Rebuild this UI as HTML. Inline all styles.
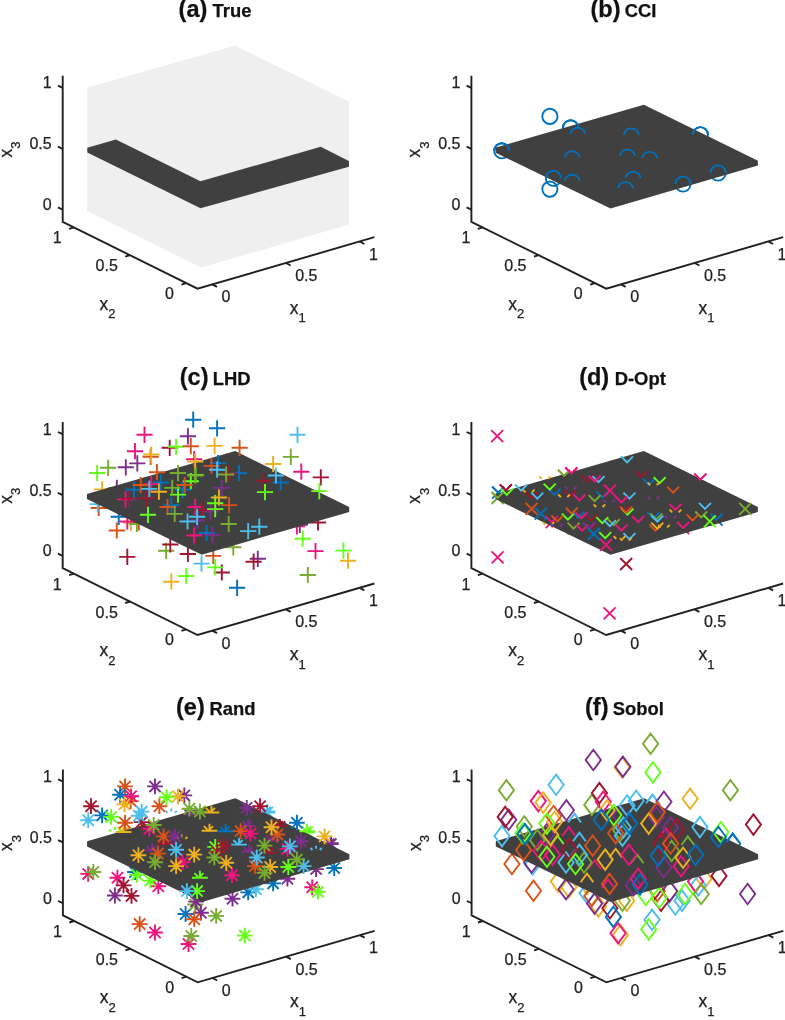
<!DOCTYPE html>
<html lang="en"><head><meta charset="utf-8"><title>Sampling designs</title>
<style>
html,body{margin:0;padding:0;background:#fff}
svg{display:block}
text{font-family:"Liberation Sans",sans-serif;fill:#222;stroke:#222;stroke-width:.25px}
.t1{font-size:23.5px;font-weight:bold;fill:#111;stroke:#111}
.t2{font-size:18.4px;font-weight:bold;fill:#111;stroke:#111}
.tk{font-size:16px}
.lb{font-size:17.5px}
.sb{font-size:13px}
.ax{fill:none;stroke:#202020;stroke-width:1.9;stroke-linejoin:miter}
.pl{fill:#404040}
.mk{fill:none;stroke-width:1.9}
</style></head><body>
<svg width="785" height="1020" viewBox="0 0 785 1020">
<g id="panel-a">
<text class="t1" x="178.6" y="17.3">(a)</text><text class="t2" x="212.6" y="17.3">True</text>
<polygon fill="#efefef" points="87.1,87.8 234.7,45.7 349,101.4 349,224.4 201.2,267.6 87.1,211"/>
<polygon class="pl" points="87.3,147.7 115.9,139.6 200.5,181.3 320.7,146.8 348.9,161 348.9,166.8 200.5,208.2 87.3,152.4"/>
<polyline class="ax" points="62.7,75.8 62.7,221.8 197.5,288.7 374.4,237.2"/>
<path class="ax" d="M62.7,209.6 l-4.8,-2.2 M186.3,283.1 l-4.9,1.5 M212.2,284.4 l4.8,2.5 M62.7,148.8 l-4.8,-2.2 M130.1,255.2 l-4.9,1.5 M285.9,263 l4.8,2.5 M62.7,87.9 l-4.8,-2.2 M74,227.4 l-4.9,1.5 M359.6,241.5 l4.8,2.5"/>
<text class="tk" text-anchor="end" x="51.7" y="210.1">0</text>
<text class="tk" text-anchor="end" x="174" y="299.1">0</text>
<text class="tk" text-anchor="start" x="221.5" y="302.4">0</text>
<text class="tk" text-anchor="end" x="51.7" y="149.3">0.5</text>
<text class="tk" text-anchor="end" x="117.8" y="271.2">0.5</text>
<text class="tk" text-anchor="start" x="295.2" y="281">0.5</text>
<text class="tk" text-anchor="end" x="51.7" y="88.4">1</text>
<text class="tk" text-anchor="end" x="61.7" y="243.4">1</text>
<text class="tk" text-anchor="start" x="368.9" y="259.5">1</text>
<text class="lb" x="99.5" y="309.7">x<tspan class="sb" dy="8.6">2</tspan></text>
<text class="lb" x="289.7" y="313.7">x<tspan class="sb" dy="8.5">1</tspan></text>
<text class="lb" transform="translate(11.6,157.5) rotate(-90)">x<tspan class="sb" dy="8.7">3</tspan></text>
</g>
<g id="panel-b">
<text class="t1" x="590.5" y="17.3">(b)</text><text class="t2" x="624.8" y="17.3">CCI</text>
<path class="mk" stroke="#0072BD" d="M542.3,189.1a7.6,7.6 0 1,0 15.2,0a7.6,7.6 0 1,0 -15.2,0 M563,127.8a7.6,7.6 0 1,0 15.2,0a7.6,7.6 0 1,0 -15.2,0 M494.2,150.8a7.6,7.6 0 1,0 15.2,0a7.6,7.6 0 1,0 -15.2,0 M545.8,178.3a7.6,7.6 0 1,0 15.2,0a7.6,7.6 0 1,0 -15.2,0 M692.8,134.7a7.6,7.6 0 1,0 15.2,0a7.6,7.6 0 1,0 -15.2,0 M710.5,173a7.6,7.6 0 1,0 15.2,0a7.6,7.6 0 1,0 -15.2,0 M675.4,184a7.6,7.6 0 1,0 15.2,0a7.6,7.6 0 1,0 -15.2,0"/>
<polygon class="pl" points="495.6,147.6 643.9,104.7 757.9,160.7 757.9,165.6 610.5,208.4 495.6,152.8"/>
<path class="mk" stroke="#0072BD" d="M563,127.8a7.6,7.6 0 0,1 15.2,0 M494.2,150.8a7.6,7.6 0 0,1 15.2,0 M545.8,178.3a7.6,7.6 0 0,1 15.2,0 M692.8,134.7a7.6,7.6 0 0,1 15.2,0 M710.5,173a7.6,7.6 0 0,1 15.2,0 M675.4,184a7.6,7.6 0 0,1 15.2,0"/>
<path class="mk" stroke="#0072BD" d="M570.4,133.9a7.6,7.6 0 0,1 14.9,0 M564.9,157.3a7.6,7.6 0 0,1 14.9,0 M564.9,180.9a7.6,7.6 0 0,1 14.9,0 M623.8,134.6a7.6,7.6 0 0,1 14.9,0 M619.9,155.7a7.6,7.6 0 0,1 14.9,0 M642.2,158a7.6,7.6 0 0,1 14.9,0 M625.7,177.9a7.6,7.6 0 0,1 14.9,0 M618.1,188.2a7.6,7.6 0 0,1 14.9,0"/>
<path class="mk" stroke="#0072BD" d="M542.3,116.4a7.6,7.6 0 1,0 15.2,0a7.6,7.6 0 1,0 -15.2,0"/>
<polyline class="ax" points="471.4,75.8 471.4,221.8 606.2,288.7 783.1,237.2"/>
<path class="ax" d="M471.4,209.6 l-4.8,-2.2 M595,283.1 l-4.9,1.5 M620.9,284.4 l4.8,2.5 M471.4,148.8 l-4.8,-2.2 M538.8,255.2 l-4.9,1.5 M694.6,263 l4.8,2.5 M471.4,87.9 l-4.8,-2.2 M482.7,227.4 l-4.9,1.5 M768.3,241.5 l4.8,2.5"/>
<text class="tk" text-anchor="end" x="460.4" y="210.1">0</text>
<text class="tk" text-anchor="end" x="582.7" y="299.1">0</text>
<text class="tk" text-anchor="start" x="630.2" y="302.4">0</text>
<text class="tk" text-anchor="end" x="460.4" y="149.3">0.5</text>
<text class="tk" text-anchor="end" x="526.5" y="271.2">0.5</text>
<text class="tk" text-anchor="start" x="703.9" y="281">0.5</text>
<text class="tk" text-anchor="end" x="460.4" y="88.4">1</text>
<text class="tk" text-anchor="end" x="470.4" y="243.4">1</text>
<text class="tk" text-anchor="start" x="777.6" y="259.5">1</text>
<text class="lb" x="508.2" y="309.7">x<tspan class="sb" dy="8.6">2</tspan></text>
<text class="lb" x="698.4" y="313.7">x<tspan class="sb" dy="8.5">1</tspan></text>
<text class="lb" transform="translate(420.3,157.5) rotate(-90)">x<tspan class="sb" dy="8.7">3</tspan></text>
</g>
<g id="panel-c">
<text class="t1" x="179.8" y="385">(c)</text><text class="t2" x="212.7" y="385">LHD</text>
<path class="mk" stroke="#7E2F8E" d="M108.7,487.9h16.2 M116.8,479.8v16.2 M283.1,508h16.2 M291.2,499.9v16.2 M249.7,558.8h16.2 M257.8,550.7v16.2 M291.7,524.8h16.2 M299.8,516.7v16.2"/>
<path class="mk" stroke="#EDB120" d="M94,489.4h16.2 M102.1,481.3v16.2 M123,522.9h16.2 M131.1,514.8v16.2 M163.2,581.7h16.2 M171.3,573.6v16.2 M282.2,514.8h16.2 M290.3,506.7v16.2 M339.9,560.7h16.2 M348,552.6v16.2"/>
<path class="mk" stroke="#D95319" d="M90.6,508h16.2 M98.7,499.9v16.2 M315.6,504.1h16.2 M323.7,496v16.2 M108.7,530.5h16.2 M116.8,522.4v16.2 M130.7,522.5h16.2 M138.8,514.4v16.2 M205.2,555.9h16.2 M213.3,547.8v16.2"/>
<path class="mk" stroke="#4DBEEE" d="M89.6,504.1h16.2 M97.7,496v16.2 M193.4,563.6h16.2 M201.5,555.5v16.2"/>
<path class="mk" stroke="#77AC30" d="M299,503.2h16.2 M307.1,495.1v16.2 M128.8,524h16.2 M136.9,515.9v16.2 M158,550.8h16.2 M166.1,542.7v16.2 M225.2,547.3h16.2 M233.3,539.2v16.2 M299.7,575h16.2 M307.8,566.9v16.2"/>
<path class="mk" stroke="#0072BD" d="M110.6,516.8h16.2 M118.7,508.7v16.2 M229,587.8h16.2 M237.1,579.7v16.2"/>
<path class="mk" stroke="#A2142F" d="M119.2,556.9h16.2 M127.3,548.8v16.2 M162.2,544.5h16.2 M170.3,536.4v16.2 M179.8,554h16.2 M187.9,545.9v16.2 M283.1,516.4h16.2 M291.2,508.3v16.2 M213.7,572.5h16.2 M221.8,564.4v16.2 M245.5,561.7h16.2 M253.6,553.6v16.2 M309.9,522.5h16.2 M318,514.4v16.2"/>
<path class="mk" stroke="#F0147F" d="M119.2,521.5h16.2 M127.3,513.4v16.2 M307.4,551.1h16.2 M315.5,543v16.2 M288.8,526.3h16.2 M296.9,518.2v16.2"/>
<path class="mk" stroke="#66FF1A" d="M207.1,567.4h16.2 M215.2,559.3v16.2 M178.1,576h16.2 M186.2,567.9v16.2 M294.6,538.7h16.2 M302.7,530.6v16.2 M335.3,550.6h16.2 M343.4,542.5v16.2"/>
<polygon class="pl" points="86.9,493.9 235.2,451 349.2,507 349.2,511.9 201.8,554.7 86.9,499.1"/>
<path class="mk" stroke="#0072BD" d="M185.1,419.7h16.2 M193.2,411.6v16.2 M209,428.3h16.2 M217.1,420.2v16.2 M210,463.1h16.2 M218.1,455v16.2 M152.7,482.5h16.2 M160.8,474.4v16.2 M125.9,489.8h16.2 M134,481.7v16.2 M174.6,489.8h16.2 M182.7,481.7v16.2 M121.1,499.4h16.2 M129.2,491.3v16.2 M163.2,505.1h16.2 M171.3,497v16.2 M230.9,473.2h16.2 M239,465.1v16.2 M272.6,482.5h16.2 M280.7,474.4v16.2 M198.5,533h16.2 M206.6,524.9v16.2"/>
<path class="mk" stroke="#F0147F" d="M136.4,434.8h16.2 M144.5,426.7v16.2 M126.9,451.2h16.2 M135,443.1v16.2 M186.1,459.2h16.2 M194.2,451.1v16.2 M143.1,484.1h16.2 M151.2,476v16.2 M117.3,499.4h16.2 M125.4,491.3v16.2 M187.1,507h16.2 M195.2,498.9v16.2 M293.2,471.7h16.2 M301.3,463.6v16.2 M186.1,535.5h16.2 M194.2,527.4v16.2"/>
<path class="mk" stroke="#7E2F8E" d="M179.8,436.3h16.2 M187.9,428.2v16.2 M129.2,463.4h16.2 M137.3,455.3v16.2 M117.7,467.3h16.2 M125.8,459.2v16.2 M213.7,487.9h16.2 M221.8,479.8v16.2 M204.3,534.9h16.2 M212.4,526.8v16.2 M202.5,511.5h16.2 M210.6,503.4v16.2 M189.2,520.4h16.2 M197.3,512.3v16.2"/>
<path class="mk" stroke="#A2142F" d="M161.6,447.8h16.2 M169.7,439.7v16.2 M138.3,498.4h16.2 M146.4,490.3v16.2 M312.7,477.4h16.2 M320.8,469.3v16.2 M221,473.6h16.2 M229.1,465.5v16.2 M255.4,480.6h16.2 M263.5,472.5v16.2 M121.1,498.6h16.2 M129.2,490.5v16.2 M193.7,510.1h16.2 M201.8,502v16.2"/>
<path class="mk" stroke="#66FF1A" d="M168,446.8h16.2 M176.1,438.7v16.2 M89,473h16.2 M97.1,464.9v16.2 M182.7,481.2h16.2 M190.8,473.1v16.2 M169.9,494.6h16.2 M178,486.5v16.2 M207.1,503.2h16.2 M215.2,495.1v16.2 M311.2,491.1h16.2 M319.3,483v16.2 M256.9,492.1h16.2 M265,484v16.2 M139.9,514.8h16.2 M148,506.7v16.2 M207.1,509.1h16.2 M215.2,501v16.2 M187.4,475h16.2 M195.5,466.9v16.2"/>
<path class="mk" stroke="#D95319" d="M182.7,446.2h16.2 M190.8,438.1v16.2 M142.5,456.8h16.2 M150.6,448.7v16.2 M148.8,472.2h16.2 M156.9,464.1v16.2 M203.3,465.9h16.2 M211.4,457.8v16.2 M176.5,485h16.2 M184.6,476.9v16.2 M132.6,485h16.2 M140.7,476.9v16.2 M159.4,507h16.2 M167.5,498.9v16.2 M231.5,447.8h16.2 M239.6,439.7v16.2 M221,505.1h16.2 M229.1,497v16.2"/>
<path class="mk" stroke="#EDB120" d="M206.5,445.9h16.2 M214.6,437.8v16.2 M143.1,454.5h16.2 M151.2,446.4v16.2 M187.1,461.5h16.2 M195.2,453.4v16.2 M150.8,491.7h16.2 M158.9,483.6v16.2 M210.9,497.5h16.2 M219,489.4v16.2 M265,464h16.2 M273.1,455.9v16.2"/>
<path class="mk" stroke="#77AC30" d="M100.1,467.8h16.2 M108.2,459.7v16.2 M169.9,473h16.2 M178,464.9v16.2 M187.1,475.5h16.2 M195.2,467.4v16.2 M164.1,487.9h16.2 M172.2,479.8v16.2 M282.7,456.9h16.2 M290.8,448.8v16.2 M218.1,474.5h16.2 M226.2,466.4v16.2 M166.6,513.9h16.2 M174.7,505.8v16.2 M220.6,524h16.2 M228.7,515.9v16.2"/>
<path class="mk" stroke="#4DBEEE" d="M209,469.7h16.2 M217.1,461.6v16.2 M141.2,488.9h16.2 M149.3,480.8v16.2 M289.4,434.8h16.2 M297.5,426.7v16.2 M267.8,475.5h16.2 M275.9,467.4v16.2 M179.4,521.5h16.2 M187.5,513.4v16.2 M189,516.8h16.2 M197.1,508.7v16.2 M240.1,531.1h16.2 M248.2,523v16.2 M251.2,526.7h16.2 M259.3,518.6v16.2"/>
<polyline class="ax" points="62.7,422.1 62.7,568.1 197.5,635 374.4,583.5"/>
<path class="ax" d="M62.7,555.9 l-4.8,-2.2 M186.3,629.4 l-4.9,1.5 M212.2,630.7 l4.8,2.5 M62.7,495.1 l-4.8,-2.2 M130.1,601.5 l-4.9,1.5 M285.9,609.3 l4.8,2.5 M62.7,434.2 l-4.8,-2.2 M74,573.7 l-4.9,1.5 M359.6,587.8 l4.8,2.5"/>
<text class="tk" text-anchor="end" x="51.7" y="556.4">0</text>
<text class="tk" text-anchor="end" x="174" y="645.4">0</text>
<text class="tk" text-anchor="start" x="221.5" y="648.7">0</text>
<text class="tk" text-anchor="end" x="51.7" y="495.6">0.5</text>
<text class="tk" text-anchor="end" x="117.8" y="617.5">0.5</text>
<text class="tk" text-anchor="start" x="295.2" y="627.3">0.5</text>
<text class="tk" text-anchor="end" x="51.7" y="434.7">1</text>
<text class="tk" text-anchor="end" x="61.7" y="589.7">1</text>
<text class="tk" text-anchor="start" x="368.9" y="605.8">1</text>
<text class="lb" x="99.5" y="656">x<tspan class="sb" dy="8.6">2</tspan></text>
<text class="lb" x="289.7" y="660">x<tspan class="sb" dy="8.5">1</tspan></text>
<text class="lb" transform="translate(11.6,503.8) rotate(-90)">x<tspan class="sb" dy="8.7">3</tspan></text>
</g>
<g id="panel-d">
<text class="t1" x="579.2" y="385">(d)</text><text class="t2" x="614.7" y="385">D-Opt</text>
<path class="mk" stroke="#0072BD" d="M492.2,486.6l12,12 M492.2,498.6l12,-12 M548.5,488.9l12,12 M548.5,500.9l12,-12 M596.3,491.4l12,12 M596.3,503.4l12,-12 M572.4,511.8l12,12 M572.4,523.8l12,-12 M642.7,478.6l12,12 M642.7,490.6l12,-12 M647.4,512.4l12,12 M647.4,524.4l12,-12 M710.5,513.7l12,12 M710.5,525.7l12,-12"/>
<path class="mk" stroke="#A2142F" d="M499.8,484.3l12,12 M499.8,496.3l12,-12 M581,475.1l12,12 M581,487.1l12,-12 M525.6,492.3l12,12 M525.6,504.3l12,-12 M563.8,490.4l12,12 M563.8,502.4l12,-12 M584.8,514.3l12,12 M584.8,526.3l12,-12 M635,470.9l12,12 M635,482.9l12,-12 M617.8,505.7l12,12 M617.8,517.7l12,-12 M583.9,523.6l12,12 M583.9,535.6l12,-12"/>
<path class="mk" stroke="#66FF1A" d="M500.8,488.9l12,12 M500.8,500.9l12,-12 M543.7,483.7l12,12 M543.7,495.7l12,-12 M561.9,513.7l12,12 M561.9,525.7l12,-12 M596.3,517.2l12,12 M596.3,529.2l12,-12 M621.5,508.6l12,12 M621.5,520.6l12,-12 M653.7,477.1l12,12 M653.7,489.1l12,-12 M599.2,532.2l12,12 M599.2,544.2l12,-12"/>
<path class="mk" stroke="#77AC30" d="M491.6,492l12,12 M491.6,504l12,-12 M558.1,469.8l12,12 M558.1,481.8l12,-12 M588.6,495.2l12,12 M588.6,507.2l12,-12 M607.8,519.1l12,12 M607.8,531.1l12,-12 M650.3,513.4l12,12 M650.3,525.4l12,-12 M695.2,511.5l12,12 M695.2,523.5l12,-12 M567.6,522.7l12,12 M567.6,534.7l12,-12"/>
<path class="mk" stroke="#4DBEEE" d="M515.1,484.7l12,12 M515.1,496.7l12,-12 M592.5,476.1l12,12 M592.5,488.1l12,-12 M621.1,456.4l12,12 M621.1,468.4l12,-12 M531.3,492.7l12,12 M531.3,504.7l12,-12 M623.4,492.7l12,12 M623.4,504.7l12,-12 M603.9,520.1l12,12 M603.9,532.1l12,-12 M699,502.9l12,12 M699,514.9l12,-12 M651.3,515.7l12,12 M651.3,527.7l12,-12 M623.4,533.2l12,12 M623.4,545.2l12,-12"/>
<path class="mk" stroke="#F0147F" d="M565.3,467.5l12,12 M565.3,479.5l12,-12 M588.6,475.5l12,12 M588.6,487.5l12,-12 M573.4,494.3l12,12 M573.4,506.3l12,-12 M615.4,496.5l12,12 M615.4,508.5l12,-12 M545.7,516.2l12,12 M545.7,528.2l12,-12 M575.3,512.4l12,12 M575.3,524.4l12,-12 M694.3,473.6l12,12 M694.3,485.6l12,-12 M669.4,503.8l12,12 M669.4,515.8l12,-12 M632.2,516.2l12,12 M632.2,528.2l12,-12 M677.1,522l12,12 M677.1,534l12,-12 M576.2,524.6l12,12 M576.2,536.6l12,-12 M615.4,524.6l12,12 M615.4,536.6l12,-12"/>
<path class="mk" stroke="#D95319" d="M565.7,507.6l12,12 M565.7,519.6l12,-12 M551.4,515.3l12,12 M551.4,527.3l12,-12 M620.2,506.7l12,12 M620.2,518.7l12,-12 M667.1,486.6l12,12 M667.1,498.6l12,-12 M686.6,514.3l12,12 M686.6,526.3l12,-12 M649.4,524.6l12,12 M649.4,536.6l12,-12"/>
<path class="mk" stroke="#7E2F8E" d="M582.9,522.7l12,12 M582.9,534.7l12,-12"/>
<path class="mk" stroke="#EDB120" d="M651.3,522.7l12,12 M651.3,534.7l12,-12"/>
<polygon class="pl" points="495.6,493.9 643.9,451 757.9,507 757.9,511.9 610.5,554.7 495.6,499.1"/>
<path class="mk" stroke="#0072BD" d="M492.2,486.6l6,6 l6,-6 M548.5,488.9l6,6 l6,-6 M596.3,491.4l6,6 l6,-6 M572.4,511.8l6,6 l6,-6 M642.7,478.6l6,6 l6,-6 M647.4,512.4l6,6 l6,-6 M710.5,513.7l6,6 l6,-6"/>
<path class="mk" stroke="#A2142F" d="M499.8,484.3l6,6 l6,-6 M581,475.1l6,6 l6,-6 M525.6,492.3l6,6 l6,-6 M563.8,490.4l6,6 l6,-6 M584.8,514.3l6,6 l6,-6 M635,470.9l6,6 l6,-6 M617.8,505.7l6,6 l6,-6 M583.9,523.6l6,6 l6,-6"/>
<path class="mk" stroke="#66FF1A" d="M500.8,488.9l6,6 l6,-6 M543.7,483.7l6,6 l6,-6 M561.9,513.7l6,6 l6,-6 M596.3,517.2l6,6 l6,-6 M621.5,508.6l6,6 l6,-6 M653.7,477.1l6,6 l6,-6 M599.2,532.2l6,6 l6,-6"/>
<path class="mk" stroke="#77AC30" d="M491.6,492l6,6 l6,-6 M558.1,469.8l6,6 l6,-6 M588.6,495.2l6,6 l6,-6 M607.8,519.1l6,6 l6,-6 M650.3,513.4l6,6 l6,-6 M695.2,511.5l6,6 l6,-6 M567.6,522.7l6,6 l6,-6"/>
<path class="mk" stroke="#4DBEEE" d="M515.1,484.7l6,6 l6,-6 M592.5,476.1l6,6 l6,-6 M621.1,456.4l6,6 l6,-6 M531.3,492.7l6,6 l6,-6 M623.4,492.7l6,6 l6,-6 M603.9,520.1l6,6 l6,-6 M699,502.9l6,6 l6,-6 M651.3,515.7l6,6 l6,-6 M623.4,533.2l6,6 l6,-6"/>
<path class="mk" stroke="#F0147F" d="M565.3,467.5l6,6 l6,-6 M588.6,475.5l6,6 l6,-6 M573.4,494.3l6,6 l6,-6 M615.4,496.5l6,6 l6,-6 M545.7,516.2l6,6 l6,-6 M575.3,512.4l6,6 l6,-6 M694.3,473.6l6,6 l6,-6 M669.4,503.8l6,6 l6,-6 M632.2,516.2l6,6 l6,-6 M677.1,522l6,6 l6,-6 M576.2,524.6l6,6 l6,-6 M615.4,524.6l6,6 l6,-6"/>
<path class="mk" stroke="#D95319" d="M565.7,507.6l6,6 l6,-6 M551.4,515.3l6,6 l6,-6 M620.2,506.7l6,6 l6,-6 M667.1,486.6l6,6 l6,-6 M686.6,514.3l6,6 l6,-6 M649.4,524.6l6,6 l6,-6"/>
<path class="mk" stroke="#7E2F8E" d="M582.9,522.7l6,6 l6,-6"/>
<path class="mk" stroke="#EDB120" d="M651.3,522.7l6,6 l6,-6"/>
<path class="mk" stroke="#EDB120" d="M539.2,476.3l2.6,2.6 M550.8,476.3l-2.6,2.6 M522.9,489.7l2.6,2.6 M534.5,489.7l-2.6,2.6 M558.3,494.5l2.6,2.6 M569.9,494.5l-2.6,2.6 M593.6,504.4l2.6,2.6 M605.2,504.4l-2.6,2.6 M647.6,482.6l2.6,2.6 M659.2,482.6l-2.6,2.6 M669.6,509.7l2.6,2.6 M681.2,509.7l-2.6,2.6 M613.7,536.2l2.6,2.6 M625.3,536.2l-2.6,2.6 M542.6,522.1l2.6,2.6 M554.2,522.1l-2.6,2.6 M658.1,524.8l2.6,2.6 M669.7,524.8l-2.6,2.6 M619.9,538.1l2.6,2.6 M631.5,538.1l-2.6,2.6"/>
<path class="mk" stroke="#7E2F8E" d="M565,486.4l2.6,2.6 M576.6,486.4l-2.6,2.6 M603.2,499.8l2.6,2.6 M614.8,499.8l-2.6,2.6 M647.6,496.4l2.6,2.6 M659.2,496.4l-2.6,2.6 M664.8,515.5l2.6,2.6 M676.4,515.5l-2.6,2.6 M551,524l2.6,2.6 M562.6,524l-2.6,2.6"/>
<path class="mk" stroke="#F0147F" d="M491.2,430.2l12,12 M491.2,442.2l12,-12 M603.9,484.7l12,12 M603.9,496.7l12,-12 M491.6,551.3l12,12 M491.6,563.3l12,-12 M603.6,607.3l12,12 M603.6,619.3l12,-12 M600.1,538.9l12,12 M600.1,550.9l12,-12"/>
<path class="mk" stroke="#D95319" d="M525.6,502.9l12,12 M525.6,514.9l12,-12"/>
<path class="mk" stroke="#0072BD" d="M534.8,507.6l12,12 M534.8,519.6l12,-12 M587.7,528l12,12 M587.7,540l12,-12"/>
<path class="mk" stroke="#66FF1A" d="M703.8,515.3l12,12 M703.8,527.3l12,-12"/>
<path class="mk" stroke="#77AC30" d="M739.2,502.9l12,12 M739.2,514.9l12,-12"/>
<path class="mk" stroke="#A2142F" d="M620.2,558l12,12 M620.2,570l12,-12"/>
<polyline class="ax" points="471.4,422.1 471.4,568.1 606.2,635 783.1,583.5"/>
<path class="ax" d="M471.4,555.9 l-4.8,-2.2 M595,629.4 l-4.9,1.5 M620.9,630.7 l4.8,2.5 M471.4,495.1 l-4.8,-2.2 M538.8,601.5 l-4.9,1.5 M694.6,609.3 l4.8,2.5 M471.4,434.2 l-4.8,-2.2 M482.7,573.7 l-4.9,1.5 M768.3,587.8 l4.8,2.5"/>
<text class="tk" text-anchor="end" x="460.4" y="556.4">0</text>
<text class="tk" text-anchor="end" x="582.7" y="645.4">0</text>
<text class="tk" text-anchor="start" x="630.2" y="648.7">0</text>
<text class="tk" text-anchor="end" x="460.4" y="495.6">0.5</text>
<text class="tk" text-anchor="end" x="526.5" y="617.5">0.5</text>
<text class="tk" text-anchor="start" x="703.9" y="627.3">0.5</text>
<text class="tk" text-anchor="end" x="460.4" y="434.7">1</text>
<text class="tk" text-anchor="end" x="470.4" y="589.7">1</text>
<text class="tk" text-anchor="start" x="777.6" y="605.8">1</text>
<text class="lb" x="508.2" y="656">x<tspan class="sb" dy="8.6">2</tspan></text>
<text class="lb" x="698.4" y="660">x<tspan class="sb" dy="8.5">1</tspan></text>
<text class="lb" transform="translate(420.3,503.8) rotate(-90)">x<tspan class="sb" dy="8.7">3</tspan></text>
</g>
<g id="panel-e">
<text class="t1" x="176" y="715.3">(e)</text><text class="t2" x="209.5" y="715.3">Rand</text>
<path class="mk" stroke="#0072BD" d="M326.3,868h15.8 M334.2,860.1v15.8 M328.6,862.4l11.2,11.2 M328.6,873.6l11.2,-11.2 M127.1,872h15.8 M135,864.1v15.8 M129.4,866.4l11.2,11.2 M129.4,877.6l11.2,-11.2 M177.7,914h15.8 M185.6,906.1v15.8 M180,908.4l11.2,11.2 M180,919.6l11.2,-11.2 M265.2,883.4h15.8 M273.1,875.5v15.8 M267.5,877.8l11.2,11.2 M267.5,889l11.2,-11.2 M240.3,892.4h15.8 M248.2,884.5v15.8 M242.6,886.8l11.2,11.2 M242.6,898l11.2,-11.2 M217.8,832.2h15.8 M225.7,824.3v15.8 M220.1,826.6l11.2,11.2 M220.1,837.8l11.2,-11.2"/>
<path class="mk" stroke="#F0147F" d="M80.3,873.9h15.8 M88.2,866v15.8 M82.6,868.3l11.2,11.2 M82.6,879.5l11.2,-11.2 M109.5,877.7h15.8 M117.4,869.8v15.8 M111.8,872.1l11.2,11.2 M111.8,883.3l11.2,-11.2 M150.4,886.3h15.8 M158.3,878.4v15.8 M152.7,880.7l11.2,11.2 M152.7,891.9l11.2,-11.2 M147.1,932.5h15.8 M155,924.6v15.8 M149.4,926.9l11.2,11.2 M149.4,938.1l11.2,-11.2 M180.6,944h15.8 M188.5,936.1v15.8 M182.9,938.4l11.2,11.2 M182.9,949.6l11.2,-11.2 M304.3,887.3h15.8 M312.2,879.4v15.8 M306.6,881.7l11.2,11.2 M306.6,892.9l11.2,-11.2"/>
<path class="mk" stroke="#77AC30" d="M85.4,872h15.8 M93.3,864.1v15.8 M87.7,866.4l11.2,11.2 M87.7,877.6l11.2,-11.2 M187.3,904.5h15.8 M195.2,896.6v15.8 M189.6,898.9l11.2,11.2 M189.6,910.1l11.2,-11.2 M208.3,915.9h15.8 M216.2,908v15.8 M210.6,910.3l11.2,11.2 M210.6,921.5l11.2,-11.2 M183.4,936h15.8 M191.3,928.1v15.8 M185.7,930.4l11.2,11.2 M185.7,941.6l11.2,-11.2"/>
<path class="mk" stroke="#A2142F" d="M115.6,885.4h15.8 M123.5,877.5v15.8 M117.9,879.8l11.2,11.2 M117.9,891l11.2,-11.2 M123.6,895.9h15.8 M131.5,888v15.8 M125.9,890.3l11.2,11.2 M125.9,901.5l11.2,-11.2 M157.6,845h15.8 M165.5,837.1v15.8 M159.9,839.4l11.2,11.2 M159.9,850.6l11.2,-11.2 M271.8,826.9h15.8 M279.7,819v15.8 M274.1,821.3l11.2,11.2 M274.1,832.5l11.2,-11.2 M261.7,853.6h15.8 M269.6,845.7v15.8 M264,848l11.2,11.2 M264,859.2l11.2,-11.2"/>
<path class="mk" stroke="#7E2F8E" d="M107,895.5h15.8 M114.9,887.6v15.8 M109.3,889.9l11.2,11.2 M109.3,901.1l11.2,-11.2 M193,912.7h15.8 M200.9,904.8v15.8 M195.3,907.1l11.2,11.2 M195.3,918.3l11.2,-11.2 M188.2,901.6h15.8 M196.1,893.7v15.8 M190.5,896l11.2,11.2 M190.5,907.2l11.2,-11.2 M308.2,869.1h15.8 M316.1,861.2v15.8 M310.5,863.5l11.2,11.2 M310.5,874.7l11.2,-11.2 M279.5,878.7h15.8 M287.4,870.8v15.8 M281.8,873.1l11.2,11.2 M281.8,884.3l11.2,-11.2 M224.6,898.7h15.8 M232.5,890.8v15.8 M226.9,893.1l11.2,11.2 M226.9,904.3l11.2,-11.2 M182.5,815.4h15.8 M190.4,807.5v15.8 M184.8,809.8l11.2,11.2 M184.8,821l11.2,-11.2 M144.3,851.3h15.8 M152.2,843.4v15.8 M146.6,845.7l11.2,11.2 M146.6,856.9l11.2,-11.2 M322.9,844.1h15.8 M330.8,836.2v15.8 M325.2,838.5l11.2,11.2 M325.2,849.7l11.2,-11.2 M240.3,826.9h15.8 M248.2,819v15.8 M242.6,821.3l11.2,11.2 M242.6,832.5l11.2,-11.2 M264.2,841.2h15.8 M272.1,833.3v15.8 M266.5,835.6l11.2,11.2 M266.5,846.8l11.2,-11.2 M241.3,852.7h15.8 M249.2,844.8v15.8 M243.6,847.1l11.2,11.2 M243.6,858.3l11.2,-11.2"/>
<path class="mk" stroke="#66FF1A" d="M129,874.8h15.8 M136.9,866.9v15.8 M131.3,869.2l11.2,11.2 M131.3,880.4l11.2,-11.2 M142.4,880.6h15.8 M150.3,872.7v15.8 M144.7,875l11.2,11.2 M144.7,886.2l11.2,-11.2 M310.1,891.7h15.8 M318,883.8v15.8 M312.4,886.1l11.2,11.2 M312.4,897.3l11.2,-11.2 M236.9,935.6h15.8 M244.8,927.7v15.8 M239.2,930l11.2,11.2 M239.2,941.2l11.2,-11.2 M299.2,832.2h15.8 M307.1,824.3v15.8 M301.5,826.6l11.2,11.2 M301.5,837.8l11.2,-11.2 M192,878.7h15.8 M199.9,870.8v15.8 M194.3,873.1l11.2,11.2 M194.3,884.3l11.2,-11.2"/>
<path class="mk" stroke="#D95319" d="M131.8,924.1h15.8 M139.7,916.2v15.8 M134.1,918.5l11.2,11.2 M134.1,929.7l11.2,-11.2 M186.3,919.2h15.8 M194.2,911.3v15.8 M188.6,913.6l11.2,11.2 M188.6,924.8l11.2,-11.2"/>
<path class="mk" stroke="#4DBEEE" d="M248,889.2h15.8 M255.9,881.3v15.8 M250.3,883.6l11.2,11.2 M250.3,894.8l11.2,-11.2 M259.4,812.5h15.8 M267.3,804.6v15.8 M261.7,806.9l11.2,11.2 M261.7,818.1l11.2,-11.2 M231.1,845.6h15.8 M239,837.7v15.8 M233.4,840l11.2,11.2 M233.4,851.2l11.2,-11.2"/>
<path class="mk" stroke="#EDB120" d="M203.5,813.5h15.8 M211.4,805.6v15.8 M205.8,807.9l11.2,11.2 M205.8,819.1l11.2,-11.2 M115.6,833h15.8 M123.5,825.1v15.8 M117.9,827.4l11.2,11.2 M117.9,838.6l11.2,-11.2 M201.6,831.7h15.8 M209.5,823.8v15.8 M203.9,826.1l11.2,11.2 M203.9,837.3l11.2,-11.2"/>
<polygon class="pl" points="87.1,841.2 235.4,798.3 349.4,854.3 349.4,859.2 202,902 87.1,846.4"/>
<path class="mk" stroke="#EDB120" d="M203.5,812.5h15.8 M211.4,805.6v6.9 M205.8,807.9l4.6,4.6 l4.6,-4.6 M115.6,832h15.8 M123.5,825.1v6.9 M117.9,827.4l4.6,4.6 l4.6,-4.6 M201.6,830.7h15.8 M209.5,823.8v6.9 M203.9,826.1l4.6,4.6 l4.6,-4.6"/>
<path class="mk" stroke="#7E2F8E" d="M182.5,814.4h15.8 M190.4,807.5v6.9 M184.8,809.8l4.6,4.6 l4.6,-4.6 M144.3,850.3h15.8 M152.2,843.4v6.9 M146.6,845.7l4.6,4.6 l4.6,-4.6 M322.9,843.1h15.8 M330.8,836.2v6.9 M325.2,838.5l4.6,4.6 l4.6,-4.6 M240.3,825.9h15.8 M248.2,819v6.9 M242.6,821.3l4.6,4.6 l4.6,-4.6 M264.2,840.2h15.8 M272.1,833.3v6.9 M266.5,835.6l4.6,4.6 l4.6,-4.6 M241.3,851.7h15.8 M249.2,844.8v6.9 M243.6,847.1l4.6,4.6 l4.6,-4.6"/>
<path class="mk" stroke="#A2142F" d="M157.6,844h15.8 M165.5,837.1v6.9 M159.9,839.4l4.6,4.6 l4.6,-4.6 M271.8,825.9h15.8 M279.7,819v6.9 M274.1,821.3l4.6,4.6 l4.6,-4.6 M261.7,852.6h15.8 M269.6,845.7v6.9 M264,848l4.6,4.6 l4.6,-4.6"/>
<path class="mk" stroke="#4DBEEE" d="M259.4,811.5h15.8 M267.3,804.6v6.9 M261.7,806.9l4.6,4.6 l4.6,-4.6 M231.1,844.6h15.8 M239,837.7v6.9 M233.4,840l4.6,4.6 l4.6,-4.6"/>
<path class="mk" stroke="#66FF1A" d="M299.2,831.2h15.8 M307.1,824.3v6.9 M301.5,826.6l4.6,4.6 l4.6,-4.6 M192,877.7h15.8 M199.9,870.8v6.9 M194.3,873.1l4.6,4.6 l4.6,-4.6"/>
<path class="mk" stroke="#0072BD" d="M217.8,831.2h15.8 M225.7,824.3v6.9 M220.1,826.6l4.6,4.6 l4.6,-4.6"/>
<path class="mk" stroke="#4DBEEE" d="M171.3,808.5v3 M165.7,810.8l2,2 M176.9,810.8l-2,2 M316.1,845.7v3 M310.5,848l2,2 M321.7,848l-2,2"/>
<path class="mk" stroke="#66FF1A" d="M114.9,827v3 M109.3,829.3l2,2 M120.5,829.3l-2,2"/>
<path class="mk" stroke="#EDB120" d="M181.8,834.6v3 M176.2,836.9l2,2 M187.4,836.9l-2,2"/>
<path class="mk" stroke="#D95319" d="M117.1,786.4h15.8 M125,778.5v15.8 M119.4,780.8l11.2,11.2 M119.4,792l11.2,-11.2 M122.9,801.1h15.8 M130.8,793.2v15.8 M125.2,795.5l11.2,11.2 M125.2,806.7l11.2,-11.2 M151.5,806.2h15.8 M159.4,798.3v15.8 M153.8,800.6l11.2,11.2 M153.8,811.8l11.2,-11.2 M117.1,822.7h15.8 M125,814.8v15.8 M119.4,817.1l11.2,11.2 M119.4,828.3l11.2,-11.2 M155.7,836.4h15.8 M163.6,828.5v15.8 M158,830.8l11.2,11.2 M158,842l11.2,-11.2 M150,853.6h15.8 M157.9,845.7v15.8 M152.3,848l11.2,11.2 M152.3,859.2l11.2,-11.2 M232.7,831.1h15.8 M240.6,823.2v15.8 M235,825.5l11.2,11.2 M235,836.7l11.2,-11.2 M269.4,834.5h15.8 M277.3,826.6v15.8 M271.7,828.9l11.2,11.2 M271.7,840.1l11.2,-11.2 M247,866.1h15.8 M254.9,858.2v15.8 M249.3,860.5l11.2,11.2 M249.3,871.7l11.2,-11.2"/>
<path class="mk" stroke="#7E2F8E" d="M147.1,786.4h15.8 M155,778.5v15.8 M149.4,780.8l11.2,11.2 M149.4,792l11.2,-11.2 M176.4,795.4h15.8 M184.3,787.5v15.8 M178.7,789.8l11.2,11.2 M178.7,801l11.2,-11.2 M166.8,836.4h15.8 M174.7,828.5v15.8 M169.1,830.8l11.2,11.2 M169.1,842l11.2,-11.2 M238.8,807.8h15.8 M246.7,799.9v15.8 M241.1,802.2l11.2,11.2 M241.1,813.4l11.2,-11.2 M292.9,841.2h15.8 M300.8,833.3v15.8 M295.2,835.6l11.2,11.2 M295.2,846.8l11.2,-11.2"/>
<path class="mk" stroke="#0072BD" d="M112.2,794.8h15.8 M120.1,786.9v15.8 M114.5,789.2l11.2,11.2 M114.5,800.4l11.2,-11.2 M94.2,815.4h15.8 M102.1,807.5v15.8 M96.5,809.8l11.2,11.2 M96.5,821l11.2,-11.2 M289,822.7h15.8 M296.9,814.8v15.8 M291.3,817.1l11.2,11.2 M291.3,828.3l11.2,-11.2"/>
<path class="mk" stroke="#F0147F" d="M123.2,796.3h15.8 M131.1,788.4v15.8 M125.5,790.7l11.2,11.2 M125.5,801.9l11.2,-11.2 M141.4,828.8h15.8 M149.3,820.9v15.8 M143.7,823.2l11.2,11.2 M143.7,834.4l11.2,-11.2 M174.8,862.2h15.8 M182.7,854.3v15.8 M177.1,856.6l11.2,11.2 M177.1,867.8l11.2,-11.2 M242.6,833.6h15.8 M250.5,825.7v15.8 M244.9,828l11.2,11.2 M244.9,839.2l11.2,-11.2 M279.5,848.9h15.8 M287.4,841v15.8 M281.8,843.3l11.2,11.2 M281.8,854.5l11.2,-11.2 M224.1,875.2h15.8 M232,867.3v15.8 M226.4,869.6l11.2,11.2 M226.4,880.8l11.2,-11.2"/>
<path class="mk" stroke="#EDB120" d="M116.6,804.3h15.8 M124.5,796.4v15.8 M118.9,798.7l11.2,11.2 M118.9,809.9l11.2,-11.2 M170.1,796.3h15.8 M178,788.4v15.8 M172.4,790.7l11.2,11.2 M172.4,801.9l11.2,-11.2 M130.5,855.2h15.8 M138.4,847.3v15.8 M132.8,849.6l11.2,11.2 M132.8,860.8l11.2,-11.2 M186.3,854.6h15.8 M194.2,846.7v15.8 M188.6,849l11.2,11.2 M188.6,860.2l11.2,-11.2 M168.2,866.1h15.8 M176.1,858.2v15.8 M170.5,860.5l11.2,11.2 M170.5,871.7l11.2,-11.2 M316.7,836.4h15.8 M324.6,828.5v15.8 M319,830.8l11.2,11.2 M319,842l11.2,-11.2 M263.6,827.3h15.8 M271.5,819.4v15.8 M265.9,821.7l11.2,11.2 M265.9,832.9l11.2,-11.2 M218.3,862.8h15.8 M226.2,854.9v15.8 M220.6,857.2l11.2,11.2 M220.6,868.4l11.2,-11.2 M262.3,867h15.8 M270.2,859.1v15.8 M264.6,861.4l11.2,11.2 M264.6,872.6l11.2,-11.2"/>
<path class="mk" stroke="#66FF1A" d="M158.6,797.3h15.8 M166.5,789.4v15.8 M160.9,791.7l11.2,11.2 M160.9,802.9l11.2,-11.2 M103.2,816.9h15.8 M111.1,809v15.8 M105.5,811.3l11.2,11.2 M105.5,822.5l11.2,-11.2 M207.3,846.9h15.8 M215.2,839v15.8 M209.6,841.3l11.2,11.2 M209.6,852.5l11.2,-11.2 M280.4,867h15.8 M288.3,859.1v15.8 M282.7,861.4l11.2,11.2 M282.7,872.6l11.2,-11.2 M189.2,891.1h15.8 M197.1,883.2v15.8 M191.5,885.5l11.2,11.2 M191.5,896.7l11.2,-11.2"/>
<path class="mk" stroke="#A2142F" d="M83.1,806.2h15.8 M91,798.3v15.8 M85.4,800.6l11.2,11.2 M85.4,811.8l11.2,-11.2 M133.8,822.1h15.8 M141.7,814.2v15.8 M136.1,816.5l11.2,11.2 M136.1,827.7l11.2,-11.2 M209.2,851.7h15.8 M217.1,843.8v15.8 M211.5,846.1l11.2,11.2 M211.5,857.3l11.2,-11.2 M252.2,806.2h15.8 M260.1,798.3v15.8 M254.5,800.6l11.2,11.2 M254.5,811.8l11.2,-11.2 M215.5,845.6h15.8 M223.4,837.7v15.8 M217.8,840l11.2,11.2 M217.8,851.2l11.2,-11.2"/>
<path class="mk" stroke="#4DBEEE" d="M133.8,811.6h15.8 M141.7,803.7v15.8 M136.1,806l11.2,11.2 M136.1,817.2l11.2,-11.2 M130.9,815.8h15.8 M138.8,807.9v15.8 M133.2,810.2l11.2,11.2 M133.2,821.4l11.2,-11.2 M80.3,820.2h15.8 M88.2,812.3v15.8 M82.6,814.6l11.2,11.2 M82.6,825.8l11.2,-11.2 M168.2,849.8h15.8 M176.1,841.9v15.8 M170.5,844.2l11.2,11.2 M170.5,855.4l11.2,-11.2 M282,846.4h15.8 M289.9,838.5v15.8 M284.3,840.8l11.2,11.2 M284.3,852l11.2,-11.2 M248.9,857.5h15.8 M256.8,849.6v15.8 M251.2,851.9l11.2,11.2 M251.2,863.1l11.2,-11.2 M295.7,866.1h15.8 M303.6,858.2v15.8 M298,860.5l11.2,11.2 M298,871.7l11.2,-11.2 M179,891.1h15.8 M186.9,883.2v15.8 M181.3,885.5l11.2,11.2 M181.3,896.7l11.2,-11.2"/>
<path class="mk" stroke="#77AC30" d="M181.5,808.7h15.8 M189.4,800.8v15.8 M183.8,803.1l11.2,11.2 M183.8,814.3l11.2,-11.2 M192,811.6h15.8 M199.9,803.7v15.8 M194.3,806l11.2,11.2 M194.3,817.2l11.2,-11.2 M145.8,825h15.8 M153.7,817.1v15.8 M148.1,819.4l11.2,11.2 M148.1,830.6l11.2,-11.2 M147.1,862.2h15.8 M155,854.3v15.8 M149.4,856.6l11.2,11.2 M149.4,867.8l11.2,-11.2 M206.4,857.5h15.8 M214.3,849.6v15.8 M208.7,851.9l11.2,11.2 M208.7,863.1l11.2,-11.2 M256.6,845.6h15.8 M264.5,837.7v15.8 M258.9,840l11.2,11.2 M258.9,851.2l11.2,-11.2 M289,859.4h15.8 M296.9,851.5v15.8 M291.3,853.8l11.2,11.2 M291.3,865l11.2,-11.2 M256.6,872.9h15.8 M264.5,865v15.8 M258.9,867.3l11.2,11.2 M258.9,878.5l11.2,-11.2"/>
<polyline class="ax" points="62.9,769.4 62.9,915.4 197.7,982.3 374.6,930.8"/>
<path class="ax" d="M62.9,903.2 l-4.8,-2.2 M186.5,976.7 l-4.9,1.5 M212.4,978 l4.8,2.5 M62.9,842.4 l-4.8,-2.2 M130.3,948.9 l-4.9,1.5 M286.1,956.6 l4.8,2.5 M62.9,781.5 l-4.8,-2.2 M74.2,921 l-4.9,1.5 M359.8,935.1 l4.8,2.5"/>
<text class="tk" text-anchor="end" x="51.9" y="903.7">0</text>
<text class="tk" text-anchor="end" x="174.2" y="992.7">0</text>
<text class="tk" text-anchor="start" x="221.7" y="996">0</text>
<text class="tk" text-anchor="end" x="51.9" y="842.9">0.5</text>
<text class="tk" text-anchor="end" x="118" y="964.9">0.5</text>
<text class="tk" text-anchor="start" x="295.4" y="974.6">0.5</text>
<text class="tk" text-anchor="end" x="51.9" y="782">1</text>
<text class="tk" text-anchor="end" x="61.9" y="937">1</text>
<text class="tk" text-anchor="start" x="369.1" y="953.1">1</text>
<text class="lb" x="99.7" y="1003.3">x<tspan class="sb" dy="8.6">2</tspan></text>
<text class="lb" x="289.9" y="1007.3">x<tspan class="sb" dy="8.5">1</tspan></text>
<text class="lb" transform="translate(11.8,851.1) rotate(-90)">x<tspan class="sb" dy="8.7">3</tspan></text>
</g>
<g id="panel-f">
<text class="t1" x="585" y="715.3">(f)</text><text class="t2" x="612.8" y="715.3">Sobol</text>
<path class="mk" stroke="#EDB120" d="M622.2,757.3l7.6,10.2 l-7.6,10.2 l-7.6,-10.2 z M558.3,871.4l7.6,10.2 l-7.6,10.2 l-7.6,-10.2 z M568.9,877.1l7.6,10.2 l-7.6,10.2 l-7.6,-10.2 z M598.5,896.2l7.6,10.2 l-7.6,10.2 l-7.6,-10.2 z M620.4,924.9l7.6,10.2 l-7.6,10.2 l-7.6,-10.2 z M704.1,868.5l7.6,10.2 l-7.6,10.2 l-7.6,-10.2 z M626.7,890.5l7.6,10.2 l-7.6,10.2 l-7.6,-10.2 z M615.7,848.8l7.6,10.2 l-7.6,10.2 l-7.6,-10.2 z M587,873.7l7.6,10.2 l-7.6,10.2 l-7.6,-10.2 z"/>
<path class="mk" stroke="#D95319" d="M511.9,853.8l7.6,10.2 l-7.6,10.2 l-7.6,-10.2 z M533.5,880.6l7.6,10.2 l-7.6,10.2 l-7.6,-10.2 z M591.8,885.7l7.6,10.2 l-7.6,10.2 l-7.6,-10.2 z M657.3,880.9l7.6,10.2 l-7.6,10.2 l-7.6,-10.2 z"/>
<path class="mk" stroke="#4DBEEE" d="M532.5,854.2l7.6,10.2 l-7.6,10.2 l-7.6,-10.2 z M587,882.9l7.6,10.2 l-7.6,10.2 l-7.6,-10.2 z M698.3,875.2l7.6,10.2 l-7.6,10.2 l-7.6,-10.2 z M682.1,890.5l7.6,10.2 l-7.6,10.2 l-7.6,-10.2 z M675.4,894.3l7.6,10.2 l-7.6,10.2 l-7.6,-10.2 z M652.1,909.6l7.6,10.2 l-7.6,10.2 l-7.6,-10.2 z M574.6,813.8l7.6,10.2 l-7.6,10.2 l-7.6,-10.2 z M652.5,794.7l7.6,10.2 l-7.6,10.2 l-7.6,-10.2 z M579.4,832.6l7.6,10.2 l-7.6,10.2 l-7.6,-10.2 z"/>
<path class="mk" stroke="#7E2F8E" d="M531.6,852.3l7.6,10.2 l-7.6,10.2 l-7.6,-10.2 z M566,879l7.6,10.2 l-7.6,10.2 l-7.6,-10.2 z M594.6,893.4l7.6,10.2 l-7.6,10.2 l-7.6,-10.2 z M747.6,883.8l7.6,10.2 l-7.6,10.2 l-7.6,-10.2 z M669.7,880.9l7.6,10.2 l-7.6,10.2 l-7.6,-10.2 z"/>
<path class="mk" stroke="#A2142F" d="M609.9,898.1l7.6,10.2 l-7.6,10.2 l-7.6,-10.2 z M719,865.7l7.6,10.2 l-7.6,10.2 l-7.6,-10.2 z M661.1,890.5l7.6,10.2 l-7.6,10.2 l-7.6,-10.2 z"/>
<path class="mk" stroke="#0072BD" d="M613.4,906.7l7.6,10.2 l-7.6,10.2 l-7.6,-10.2 z M732.7,833.6l7.6,10.2 l-7.6,10.2 l-7.6,-10.2 z"/>
<path class="mk" stroke="#F0147F" d="M618,923l7.6,10.2 l-7.6,10.2 l-7.6,-10.2 z M695.5,871.4l7.6,10.2 l-7.6,10.2 l-7.6,-10.2 z M568.9,827.2l7.6,10.2 l-7.6,10.2 l-7.6,-10.2 z M665.9,828.1l7.6,10.2 l-7.6,10.2 l-7.6,-10.2 z M594.6,860.3l7.6,10.2 l-7.6,10.2 l-7.6,-10.2 z M608,879.4l7.6,10.2 l-7.6,10.2 l-7.6,-10.2 z"/>
<path class="mk" stroke="#77AC30" d="M622.4,890.5l7.6,10.2 l-7.6,10.2 l-7.6,-10.2 z M701.2,883.8l7.6,10.2 l-7.6,10.2 l-7.6,-10.2 z M687.8,836.4l7.6,10.2 l-7.6,10.2 l-7.6,-10.2 z M637.2,854.6l7.6,10.2 l-7.6,10.2 l-7.6,-10.2 z"/>
<path class="mk" stroke="#66FF1A" d="M685,883.8l7.6,10.2 l-7.6,10.2 l-7.6,-10.2 z M659.2,887.6l7.6,10.2 l-7.6,10.2 l-7.6,-10.2 z M645.8,884.8l7.6,10.2 l-7.6,10.2 l-7.6,-10.2 z M648.7,919.2l7.6,10.2 l-7.6,10.2 l-7.6,-10.2 z M557.4,835.5l7.6,10.2 l-7.6,10.2 l-7.6,-10.2 z"/>
<polygon class="pl" points="495.8,841.2 644.1,798.3 758.1,854.3 758.1,859.2 610.7,902 495.8,846.4"/>
<path class="mk" stroke="#4DBEEE" d="M568.2,822.4l6.4,-8.6 l6.4,8.6 M646.1,803.3l6.4,-8.6 l6.4,8.6 M573,841.2l6.4,-8.6 l6.4,8.6"/>
<path class="mk" stroke="#F0147F" d="M562.5,835.8l6.4,-8.6 l6.4,8.6 M659.5,836.7l6.4,-8.6 l6.4,8.6 M588.2,868.9l6.4,-8.6 l6.4,8.6 M601.6,888l6.4,-8.6 l6.4,8.6"/>
<path class="mk" stroke="#66FF1A" d="M551,844.1l6.4,-8.6 l6.4,8.6"/>
<path class="mk" stroke="#EDB120" d="M609.3,857.4l6.4,-8.6 l6.4,8.6 M580.6,882.3l6.4,-8.6 l6.4,8.6"/>
<path class="mk" stroke="#77AC30" d="M681.4,845l6.4,-8.6 l6.4,8.6 M630.8,863.2l6.4,-8.6 l6.4,8.6"/>
<path class="mk" stroke="#0072BD" d="M726.3,842.2l6.4,-8.6 l6.4,8.6"/>
<path class="mk" stroke="#7E2F8E" d="M593.3,749.8l7.6,10.2 l-7.6,10.2 l-7.6,-10.2 z M622.9,756.5l7.6,10.2 l-7.6,10.2 l-7.6,-10.2 z M566.4,800.1l7.6,10.2 l-7.6,10.2 l-7.6,-10.2 z M508.7,809.6l7.6,10.2 l-7.6,10.2 l-7.6,-10.2 z M620.4,805.8l7.6,10.2 l-7.6,10.2 l-7.6,-10.2 z M546.9,823.9l7.6,10.2 l-7.6,10.2 l-7.6,-10.2 z M663.9,791.5l7.6,10.2 l-7.6,10.2 l-7.6,-10.2 z M656.3,806.7l7.6,10.2 l-7.6,10.2 l-7.6,-10.2 z M670.6,817.3l7.6,10.2 l-7.6,10.2 l-7.6,-10.2 z M663.9,857.1l7.6,10.2 l-7.6,10.2 l-7.6,-10.2 z M633.4,875.2l7.6,10.2 l-7.6,10.2 l-7.6,-10.2 z"/>
<path class="mk" stroke="#77AC30" d="M506.4,780l7.6,10.2 l-7.6,10.2 l-7.6,-10.2 z M591.8,794.7l7.6,10.2 l-7.6,10.2 l-7.6,-10.2 z M524.3,816.3l7.6,10.2 l-7.6,10.2 l-7.6,-10.2 z M537.3,829.7l7.6,10.2 l-7.6,10.2 l-7.6,-10.2 z M650.6,733.6l7.6,10.2 l-7.6,10.2 l-7.6,-10.2 z M730.4,780l7.6,10.2 l-7.6,10.2 l-7.6,-10.2 z M584.1,852.3l7.6,10.2 l-7.6,10.2 l-7.6,-10.2 z M671.6,840.8l7.6,10.2 l-7.6,10.2 l-7.6,-10.2 z M620.6,819.9l7.6,10.2 l-7.6,10.2 l-7.6,-10.2 z"/>
<path class="mk" stroke="#4DBEEE" d="M556.1,774.6l7.6,10.2 l-7.6,10.2 l-7.6,-10.2 z M627.1,795.3l7.6,10.2 l-7.6,10.2 l-7.6,-10.2 z M502,825.9l7.6,10.2 l-7.6,10.2 l-7.6,-10.2 z M623.3,817.3l7.6,10.2 l-7.6,10.2 l-7.6,-10.2 z M636.2,790.5l7.6,10.2 l-7.6,10.2 l-7.6,-10.2 z M699.9,816.9l7.6,10.2 l-7.6,10.2 l-7.6,-10.2 z M566,852.3l7.6,10.2 l-7.6,10.2 l-7.6,-10.2 z M579.4,844.6l7.6,10.2 l-7.6,10.2 l-7.6,-10.2 z M622.4,825.5l7.6,10.2 l-7.6,10.2 l-7.6,-10.2 z"/>
<path class="mk" stroke="#A2142F" d="M599.4,782.9l7.6,10.2 l-7.6,10.2 l-7.6,-10.2 z M505.2,806.7l7.6,10.2 l-7.6,10.2 l-7.6,-10.2 z M753.4,814.4l7.6,10.2 l-7.6,10.2 l-7.6,-10.2 z M676.4,819.2l7.6,10.2 l-7.6,10.2 l-7.6,-10.2 z M568.9,838.9l7.6,10.2 l-7.6,10.2 l-7.6,-10.2 z M661.1,833.2l7.6,10.2 l-7.6,10.2 l-7.6,-10.2 z"/>
<path class="mk" stroke="#F0147F" d="M538.3,790.9l7.6,10.2 l-7.6,10.2 l-7.6,-10.2 z M603.2,791.5l7.6,10.2 l-7.6,10.2 l-7.6,-10.2 z M552.6,844.6l7.6,10.2 l-7.6,10.2 l-7.6,-10.2 z M541.1,840.8l7.6,10.2 l-7.6,10.2 l-7.6,-10.2 z M629,844.6l7.6,10.2 l-7.6,10.2 l-7.6,-10.2 z M681.1,856.1l7.6,10.2 l-7.6,10.2 l-7.6,-10.2 z M638.2,868.5l7.6,10.2 l-7.6,10.2 l-7.6,-10.2 z"/>
<path class="mk" stroke="#EDB120" d="M543.1,792.4l7.6,10.2 l-7.6,10.2 l-7.6,-10.2 z M554.5,811.5l7.6,10.2 l-7.6,10.2 l-7.6,-10.2 z M607.1,800.1l7.6,10.2 l-7.6,10.2 l-7.6,-10.2 z M550.7,824.9l7.6,10.2 l-7.6,10.2 l-7.6,-10.2 z M690.1,788.6l7.6,10.2 l-7.6,10.2 l-7.6,-10.2 z M648.7,813.4l7.6,10.2 l-7.6,10.2 l-7.6,-10.2 z M605.2,849.4l7.6,10.2 l-7.6,10.2 l-7.6,-10.2 z M683.1,847.5l7.6,10.2 l-7.6,10.2 l-7.6,-10.2 z"/>
<path class="mk" stroke="#D95319" d="M553.6,805.8l7.6,10.2 l-7.6,10.2 l-7.6,-10.2 z M615.7,823l7.6,10.2 l-7.6,10.2 l-7.6,-10.2 z M657.3,802l7.6,10.2 l-7.6,10.2 l-7.6,-10.2 z M523.6,839.9l7.6,10.2 l-7.6,10.2 l-7.6,-10.2 z M592.7,835.5l7.6,10.2 l-7.6,10.2 l-7.6,-10.2 z M609.6,873.7l7.6,10.2 l-7.6,10.2 l-7.6,-10.2 z M670.6,833.3l7.6,10.2 l-7.6,10.2 l-7.6,-10.2 z"/>
<path class="mk" stroke="#66FF1A" d="M546.9,813.4l7.6,10.2 l-7.6,10.2 l-7.6,-10.2 z M613.8,804.8l7.6,10.2 l-7.6,10.2 l-7.6,-10.2 z M523,823l7.6,10.2 l-7.6,10.2 l-7.6,-10.2 z M652.9,762.2l7.6,10.2 l-7.6,10.2 l-7.6,-10.2 z M720.9,822l7.6,10.2 l-7.6,10.2 l-7.6,-10.2 z M546.9,846.6l7.6,10.2 l-7.6,10.2 l-7.6,-10.2 z M575.5,853.8l7.6,10.2 l-7.6,10.2 l-7.6,-10.2 z"/>
<path class="mk" stroke="#0072BD" d="M601.3,809.6l7.6,10.2 l-7.6,10.2 l-7.6,-10.2 z M524.9,823.9l7.6,10.2 l-7.6,10.2 l-7.6,-10.2 z M718.4,826.8l7.6,10.2 l-7.6,10.2 l-7.6,-10.2 z M629.6,813.4l7.6,10.2 l-7.6,10.2 l-7.6,-10.2 z M658.2,845.6l7.6,10.2 l-7.6,10.2 l-7.6,-10.2 z M695.5,844.6l7.6,10.2 l-7.6,10.2 l-7.6,-10.2 z M640.1,874.3l7.6,10.2 l-7.6,10.2 l-7.6,-10.2 z"/>
<polyline class="ax" points="471.6,769.4 471.6,915.4 606.4,982.3 783.3,930.8"/>
<path class="ax" d="M471.6,903.2 l-4.8,-2.2 M595.2,976.7 l-4.9,1.5 M621.1,978 l4.8,2.5 M471.6,842.4 l-4.8,-2.2 M539,948.9 l-4.9,1.5 M694.8,956.6 l4.8,2.5 M471.6,781.5 l-4.8,-2.2 M482.9,921 l-4.9,1.5 M768.5,935.1 l4.8,2.5"/>
<text class="tk" text-anchor="end" x="460.6" y="903.7">0</text>
<text class="tk" text-anchor="end" x="582.9" y="992.7">0</text>
<text class="tk" text-anchor="start" x="630.4" y="996">0</text>
<text class="tk" text-anchor="end" x="460.6" y="842.9">0.5</text>
<text class="tk" text-anchor="end" x="526.7" y="964.9">0.5</text>
<text class="tk" text-anchor="start" x="704.1" y="974.6">0.5</text>
<text class="tk" text-anchor="end" x="460.6" y="782">1</text>
<text class="tk" text-anchor="end" x="470.6" y="937">1</text>
<text class="tk" text-anchor="start" x="777.8" y="953.1">1</text>
<text class="lb" x="508.4" y="1003.3">x<tspan class="sb" dy="8.6">2</tspan></text>
<text class="lb" x="698.6" y="1007.3">x<tspan class="sb" dy="8.5">1</tspan></text>
<text class="lb" transform="translate(420.5,851.1) rotate(-90)">x<tspan class="sb" dy="8.7">3</tspan></text>
</g>
</svg>
</body></html>
